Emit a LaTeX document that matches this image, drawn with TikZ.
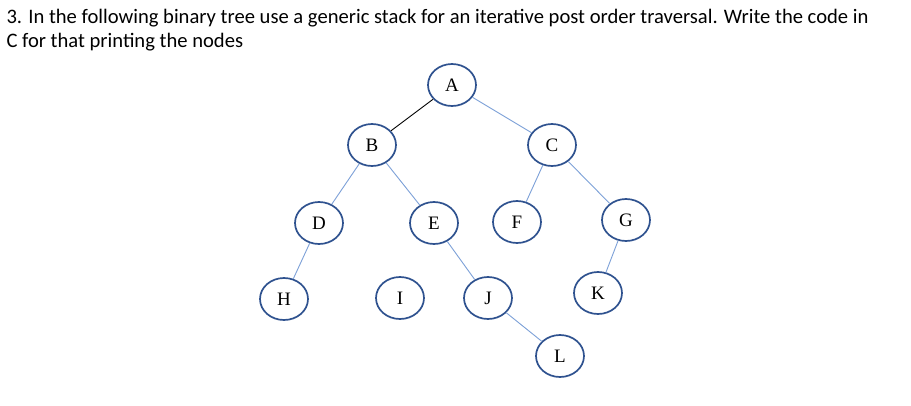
\documentclass[tikz,border=0pt]{standalone}
\usepackage{fontspec}
\usetikzlibrary{shapes.geometric}
\setmainfont{Liberation Serif}
\newfontfamily\calfont{Carlito}
\definecolor{nodeblue}{HTML}{2F528F}
\definecolor{edgeblue}{HTML}{7DA1D8}
\begin{document}
\begin{tikzpicture}[x=1pt,y=-1pt,
  tn/.style={ellipse,draw=nodeblue,line width=1.7pt,minimum width=48pt,minimum height=42pt,inner sep=0pt,font=\fontsize{19}{19}\selectfont},
  ed/.style={draw=edgeblue,line width=0.9pt}]
\useasboundingbox[fill=white] (0,0) rectangle (911,405);
\node[anchor=west,font=\calfont\fontsize{20.6}{20.6}\selectfont] (t1) at (3,18) {3. In the following binary tree use a generic stack for an iterative post order traversal. Write the code in};
\node[anchor=west,font=\calfont\fontsize{20.6}{20.6}\selectfont] (t2) at (3,42) {C for that printing the nodes};
\node[tn] (A) at (452,85) {A};
\node[tn] (B) at (372,145) {B};
\node[tn] (C) at (552,145) {C};
\node[tn] (D) at (319,223) {D};
\node[tn] (E) at (434,223) {E};
\node[tn] (F) at (517,222) {F};
\node[tn] (G) at (626,220) {G};
\node[tn] (H) at (284,299) {H};
\node[tn] (I) at (400,298) {I};
\node[tn] (J) at (488,298) {J};
\node[tn] (K) at (598,293) {K};
\node[tn] (L) at (560,356) {L};
\draw[line width=0.9pt] (A) -- (B);
\draw[ed] (A) -- (C);
\draw[ed] (B) -- (D);
\draw[ed] (B) -- (E);
\draw[ed] (C) -- (F);
\draw[ed] (C) -- (G);
\draw[ed] (D) -- (H);
\draw[ed] (E) -- (J);
\draw[ed] (G) -- (K);
\draw[ed] (J) -- (L);
\end{tikzpicture}
\end{document}
